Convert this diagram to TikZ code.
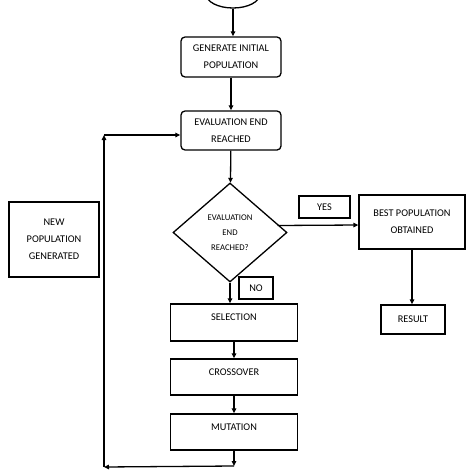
\documentclass[tikz,border=0pt]{standalone}
\usepackage{fontspec}
\setmainfont{Carlito}
\usetikzlibrary{shapes.geometric,arrows.meta}
\begin{document}
\begin{tikzpicture}[
  x=1pt, y=-1pt, line width=1.3pt,
  >={Triangle[length=5pt,width=4.5pt]},
  box/.style={draw, align=center, inner sep=0pt, font=\fontsize{10.3}{17}\selectfont},
  rbox/.style={box, rounded corners=4pt, minimum width=100pt},
  stepbox/.style={box, minimum width=127pt, minimum height=36pt, text height=7pt, text depth=11pt},
  tag/.style={box, minimum height=22pt},
  test/.style={draw, diamond, align=center, inner sep=0pt, minimum width=114pt, minimum height=99pt, font=\fontsize{8.7}{15}\selectfont}
]
\useasboundingbox (0,0) rectangle (474,474);
\clip (0,0) rectangle (474,474);
\node[draw, ellipse, minimum width=54pt, minimum height=28pt] (start) at (233,-6) {};
\node[rbox, minimum height=40pt] (gen) at (231,57) {GENERATE INITIAL\\POPULATION};
\node[rbox, minimum height=39pt] (eval) at (231,130.5) {EVALUATION END\\REACHED};
\node[test] (dia) at (230,232.5) {EVALUATION\\END\\REACHED?};
\node[tag, minimum width=51pt] (yes) at (324.5,207) {YES};
\node[tag, minimum width=34pt] (no) at (256,288) {NO};
\node[box, minimum width=106pt, minimum height=54pt] (best) at (412,222) {BEST POPULATION\\OBTAINED};
\node[box, minimum width=64pt, minimum height=29pt] (result) at (413,319.5) {RESULT};
\node[box, minimum width=90pt, minimum height=75pt] (newpop) at (54,239.5) {NEW\\POPULATION\\GENERATED};
\node[stepbox, minimum height=37pt] (sel) at (234,322.5) {SELECTION};
\node[stepbox] (cross) at (234,377) {CROSSOVER};
\node[stepbox] (mut) at (234,432) {MUTATION};
\coordinate (mutend) at (232,466);
\coordinate (loopbot) at (104,467);
\coordinate (looptop) at (104,135);
\draw[->] (start.south) -- (start.south |- gen.north);
\draw[->] (gen) -- (eval);
\draw[->] (eval) -- (dia);
\draw[->] ([xshift=-10pt,yshift=7pt]dia.east) -- ([yshift=-3pt]best.west);
\draw[->] (best) -- (best.south |- result.north);
\draw[->] (dia.south) -- (dia.south |- sel.north);
\draw[->] (sel) -- (cross);
\draw[->] (cross) -- (mut);
\draw[->] (mut.south) -- (mut.south |- mutend);
\draw[->] (mut.south |- mutend) -- (loopbot);
\draw[->] (loopbot) -- (looptop);
\draw[->] (looptop) -- (eval.west |- looptop);
\end{tikzpicture}
\end{document}
